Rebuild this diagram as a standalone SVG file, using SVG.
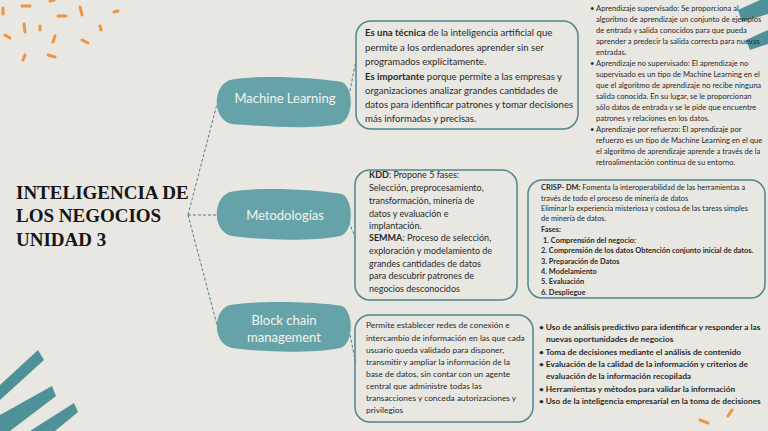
<svg xmlns="http://www.w3.org/2000/svg" width="768" height="431" viewBox="0 0 768 431">
<style>
.bg{fill:#e8e7e2}
.node{fill:#66a3a9}
.nt{font-family:Lato,"Open Sans",sans-serif;font-size:13px;fill:#f4f4ef;text-anchor:middle}
.box{fill:none;stroke:#4e878d;stroke-width:1.5}
.t{font-family:Lato,"Liberation Sans",sans-serif;fill:#2a2a2a}
.b{font-weight:bold}
.con{fill:none;stroke:#4e7f85;stroke-width:1;stroke-dasharray:3 2}
.or{stroke:#ee9444;stroke-width:3;stroke-linecap:round}
.tl{fill:#4f9198}
</style>
<rect class="bg" width="768" height="431"/>
<g id="decor">
<g class="or">
<line x1="3" y1="8" x2="3" y2="14"/><line x1="22" y1="6" x2="30" y2="6"/><line x1="58" y1="16" x2="66" y2="16"/><line x1="80" y1="7" x2="82" y2="15"/><line x1="24" y1="24" x2="25" y2="32"/><line x1="40" y1="26" x2="40" y2="30"/><line x1="55" y1="36" x2="53" y2="42"/><line x1="82" y1="40" x2="88" y2="43"/><line x1="100" y1="26" x2="101" y2="30"/><line x1="5" y1="35" x2="10" y2="38"/><line x1="48" y1="55" x2="55" y2="57"/><line x1="25" y1="55" x2="23" y2="60"/><line x1="114" y1="12" x2="118" y2="11"/><line x1="50" y1="1" x2="54" y2="0"/>
<line x1="700" y1="420" x2="708" y2="423"/><line x1="732" y1="410" x2="728" y2="416"/>
</g>
<polygon class="tl" points="0,385 38,350 44,360 0,400"/>
<polygon class="tl" points="0,415 52,386 56,396 10,431 0,431"/>
<polygon class="tl" points="30,431 74,403 78,412 55,431"/>
<polygon class="tl" points="738,10 760,0 768,0 768,14 742,22"/>
<polygon class="tl" points="746,40 768,30 768,44 750,50"/>
</g>
<g id="title">
<text class="b" font-family="'Liberation Serif',serif" font-size="19" fill="#151515"><tspan x="16" y="199">INTELIGENCIA DE</tspan><tspan x="16" y="222">LOS NEGOCIOS</tspan><tspan x="16" y="246">UNIDAD 3</tspan></text>
</g>
<g id="connectors">
<path class="con" d="M188,215 L217,104 M188,215 L217,215 M188,215 L217,325"/>
<path class="con" d="M349,96 L356,60 M349,222 L356,240 M349,330 L356,364"/>
</g>
<g id="n-ml">
<path class="node" d="M230,80 C260,74 320,78 342,82 C354,88 354,118 340,124 C310,130 260,126 232,124 C212,120 212,86 230,80Z"/>
<text class="nt" x="285" y="103">Machine Learning</text>
</g>
<g id="n-met">
<path class="node" d="M230,192 C260,186 320,190 342,194 C354,200 354,232 340,236 C310,242 260,240 232,236 C212,232 212,198 230,192Z"/>
<text class="nt" x="285" y="220">Metodologías</text>
</g>
<g id="n-bc">
<path class="node" d="M230,305 C260,300 320,302 342,306 C354,312 354,344 340,348 C310,354 260,352 232,348 C212,344 212,310 230,305Z"/>
<text class="nt"><tspan x="284" y="325">Block chain</tspan><tspan x="284" y="342">management</tspan></text>
</g>
<g id="box-ml">
<rect class="box" x="356" y="21" width="222" height="108" rx="15"/>
<text class="t" font-size="9.6"><tspan x="365" y="36"><tspan class="b">Es una técnica</tspan> de la inteligencia artificial que</tspan><tspan x="365" y="51">permite a los ordenadores aprender sin ser</tspan><tspan x="365" y="65">programados explícitamente.</tspan><tspan x="365" y="80" class="b">Es importante <tspan font-weight="normal">porque permite a las empresas y</tspan></tspan><tspan x="365" y="94">organizaciones analizar grandes cantidades de</tspan><tspan x="365" y="108">datos para identificar patrones y tomar decisiones</tspan><tspan x="365" y="122">más informadas y precisas.</tspan></text>
</g>
<g id="list-ml">
<text class="t" font-size="7.6"><tspan x="590" y="11">•  Aprendizaje supervisado: Se proporciona al</tspan><tspan x="596" y="22">algoritmo de aprendizaje un conjunto de ejemplos</tspan><tspan x="596" y="33">de entrada y salida conocidos para que pueda</tspan><tspan x="596" y="44">aprender a predecir la salida correcta para nuevas</tspan><tspan x="596" y="55">entradas.</tspan><tspan x="590" y="66">•  Aprendizaje no supervisado: El aprendizaje no</tspan><tspan x="596" y="77">supervisado es un tipo de Machine Learning en el</tspan><tspan x="596" y="88">que el algoritmo de aprendizaje no recibe ninguna</tspan><tspan x="596" y="99">salida conocida. En su lugar, se le proporcionan</tspan><tspan x="596" y="110">sólo datos de entrada y se le pide que encuentre</tspan><tspan x="596" y="121">patrones y relaciones en los datos.</tspan><tspan x="590" y="132">•  Aprendizaje por refuerzo: El aprendizaje por</tspan><tspan x="596" y="143">refuerzo es un tipo de Machine Learning en el que</tspan><tspan x="596" y="154">el algoritmo de aprendizaje aprende a través de la</tspan><tspan x="596" y="165">retroalimentación continua de su entorno.</tspan></text>
</g>
<g id="box-met">
<rect class="box" x="355" y="170" width="162" height="130" rx="15"/>
<text class="t" font-size="9"><tspan x="369" y="178"><tspan class="b">KDD</tspan>: Propone 5 fases:</tspan><tspan x="369" y="191">Selección, preprocesamiento,</tspan><tspan x="369" y="204">transformación, minería de</tspan><tspan x="369" y="217">datos y evaluación e</tspan><tspan x="369" y="229">implantación.</tspan><tspan x="369" y="241"><tspan class="b">SEMMA</tspan>: Proceso de selección,</tspan><tspan x="369" y="254">exploración y modelamiento de</tspan><tspan x="369" y="267">grandes cantidades de datos</tspan><tspan x="369" y="279">para descubrir patrones de</tspan><tspan x="369" y="292">negocios desconocidos</tspan></text>
</g>
<g id="box-crisp">
<rect class="box" x="528" y="180" width="237" height="118" rx="14"/>
<text class="t" font-size="7.4"><tspan x="541" y="190"><tspan class="b">CRISP- DM:</tspan> Fomenta la interoperabilidad de las herramientas a</tspan><tspan x="541" y="201">través de todo el proceso de minería de datos</tspan><tspan x="541" y="211">Eliminar la experiencia misteriosa y costosa de las tareas simples</tspan><tspan x="541" y="221">de minería de datos.</tspan><tspan x="541" y="232" class="b">Fases:</tspan><tspan x="543" y="243" class="b">1. Comprensión del negocio:</tspan><tspan x="541" y="253" class="b">2. Comprensión de los datos Obtención conjunto inicial de datos.</tspan><tspan x="541" y="264" class="b">3. Preparación de Datos</tspan><tspan x="541" y="274" class="b">4. Modelamiento</tspan><tspan x="541" y="284" class="b">5. Evaluación</tspan><tspan x="541" y="295" class="b">6. Despliegue</tspan></text>
</g>
<g id="box-bc">
<rect class="box" x="355" y="315" width="178" height="107" rx="15"/>
<text class="t" font-size="8.4"><tspan x="366" y="328">Permite establecer redes de conexión e</tspan><tspan x="366" y="341">intercambio de información en las que cada</tspan><tspan x="366" y="353">usuario queda validado para disponer,</tspan><tspan x="366" y="365">transmitir y ampliar la información de la</tspan><tspan x="366" y="377">base de datos, sin contar con un agente</tspan><tspan x="366" y="389">central que administre todas las</tspan><tspan x="366" y="401">transacciones y conceda autorizaciones y</tspan><tspan x="366" y="413">privilegios</tspan></text>
</g>
<g id="list-bc">
<text class="t b" font-size="8.3"><tspan x="539" y="330">•  Uso de análisis predictivo para identificar y responder a las</tspan><tspan x="546" y="342">nuevas oportunidades de negocios</tspan><tspan x="539" y="355">•  Toma de decisiones mediante el análisis de contenido</tspan><tspan x="539" y="367">•  Evaluación de la calidad de la información y criterios de</tspan><tspan x="546" y="379">evaluación de la información recopilada</tspan><tspan x="539" y="392">•  Herramientas y métodos para validar la información</tspan><tspan x="539" y="404">•  Uso de la inteligencia empresarial en la toma de decisiones</tspan></text>
</g>
</svg>
